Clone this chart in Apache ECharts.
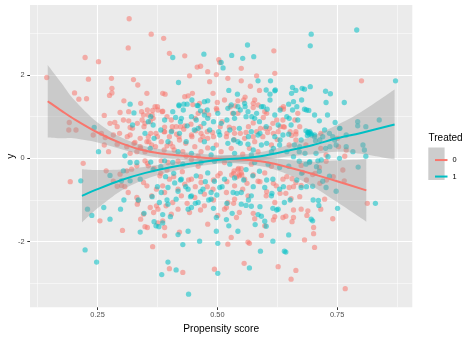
<!DOCTYPE html>
<html>
<head>
<meta charset="utf-8">
<script src="https://cdn.jsdelivr.net/npm/echarts@6/dist/echarts.min.js"></script>
<style>html,body{margin:0;padding:0;background:#fff;}#c{width:474px;height:338px;}</style>
</head>
<body>
<div id="c"></div>
<script>
// ---- data ----
const xTicks = [0.25, 0.50, 0.75];
const xMinor = [0.125, 0.375, 0.625, 0.875];
const yTicks = [-2, 0, 2];
const yMinor = [-3, -1, 1, 3];

const treated0 = [
[0.316,3.35],[0.362,2.98],[0.388,2.88],[0.314,2.65],[0.400,2.52],[0.432,2.46],[0.224,2.42],[0.252,2.32],[0.503,2.37],[0.505,2.30],[0.618,2.58],[0.458,2.19],[0.465,2.21],[0.480,2.08],[0.442,1.98],[0.550,2.16],[0.620,2.04],[0.498,2.01],
[0.144,1.94],[0.231,1.90],[0.279,1.92],[0.325,1.89],[0.334,1.76],[0.280,1.68],[0.280,1.57],[0.275,1.51],[0.202,1.57],[0.211,1.42],[0.227,1.43],[0.353,1.56],[0.305,1.38],[0.297,1.10],[0.315,1.12],[0.264,1.03],[0.276,0.84],[0.286,0.86],[0.291,0.76],[0.304,0.92],[0.315,0.90],[0.318,0.74],[0.191,0.86],[0.190,0.68],[0.205,0.68],[0.241,0.56],[0.258,0.60],[0.266,0.50],[0.273,0.16],[0.264,0.32],[0.342,1.12],[0.346,1.04],[0.356,1.04],[0.343,0.92],[0.349,0.84],[0.360,0.88],[0.366,0.96],[0.370,1.24],[0.365,1.15],[0.283,0.56],[0.296,0.60],[0.318,0.56],[0.339,0.48],[0.291,0.34],[0.311,0.28],[0.328,0.38],[0.339,0.28],[0.353,0.40],[0.363,0.32],[0.332,0.16],[0.349,0.16],[0.318,0.12],[0.356,0.52],[0.372,0.60],
[0.386,1.56],[0.391,1.54],[0.432,1.48],[0.439,1.50],[0.448,1.56],[0.484,1.84],[0.522,1.92],[0.550,1.86],[0.569,1.73],[0.582,1.98],[0.491,1.56],[0.500,1.34],[0.558,1.47],[0.543,1.38],[0.463,1.32],[0.449,1.29],[0.386,1.13],[0.376,1.16],[0.404,0.92],[0.414,0.76],[0.423,0.76],[0.432,0.78],[0.460,1.08],[0.473,1.12],[0.498,1.20],[0.543,1.08],[0.578,1.40],[0.585,1.28],[0.599,1.12],[0.616,0.84],[0.633,1.20],[0.637,0.92],[0.390,0.64],[0.400,0.52],[0.421,0.44],[0.446,0.56],[0.466,0.60],[0.480,0.48],[0.498,0.32],[0.519,0.52],[0.536,0.60],[0.557,0.48],[0.578,0.40],[0.595,0.52],[0.613,0.32],[0.627,0.64],[0.407,0.28],[0.428,0.16],[0.453,0.28],[0.508,0.16],[0.529,0.24],[0.567,0.24],[0.585,0.16],[0.383,0.40],[0.466,0.16],[0.553,0.10],
[0.390,0.75],[0.405,0.66],[0.415,0.58],[0.430,0.70],[0.445,0.82],[0.455,0.66],[0.470,0.52],[0.395,0.30],[0.410,0.20],[0.435,0.05],[0.460,0.05],[0.480,0.25],[0.490,0.62],[0.510,0.88],[0.525,0.75],[0.535,0.45],[0.560,0.62],[0.575,0.85],[0.590,0.72],[0.605,0.62],[0.625,0.45],[0.640,0.75],[0.655,0.55],
[0.515,1.40],[0.588,1.63],[0.537,1.26],[0.532,1.08],[0.575,1.22],[0.596,0.98],[0.638,1.18],[0.609,0.72],[0.631,0.76],[0.575,0.52],[0.753,0.28],[0.664,0.58],
[0.340,1.32],[0.354,1.16],[0.364,1.04],[0.375,1.24],[0.385,1.12],[0.395,1.00],[0.406,0.76],[0.389,0.64],[0.375,0.52],[0.361,0.60],[0.347,0.76],[0.333,0.84],[0.323,0.72],[0.312,0.52],[0.326,0.36],[0.340,0.24],[0.357,0.40],[0.371,0.28],[0.389,0.20],[0.402,0.36],[0.420,0.52],[0.434,0.36],[0.447,0.52],[0.465,0.44],[0.479,0.64],[0.492,0.52],[0.506,0.76],[0.520,0.60],[0.534,0.72],[0.548,0.60],[0.565,0.76],[0.582,0.64],[0.600,0.72],[0.617,0.60],[0.638,0.76],[0.652,0.64],[0.662,0.92],[0.672,0.76],[0.465,0.76],[0.454,0.96],[0.482,1.04],[0.499,1.16],[0.527,1.24],[0.555,1.40],[0.575,1.32],[0.603,1.08],[0.624,0.92],[0.638,1.24],
[0.801,1.86],[0.668,1.08],[0.716,0.60],[0.751,0.48],[0.769,0.20],[0.664,0.44],[0.650,0.32],[0.685,0.32],[0.716,0.24],[0.727,0.08],[0.664,0.64],[0.766,0.05],
[0.220,-0.12],[0.193,-0.56],[0.268,-0.30],[0.255,-1.50],[0.302,-1.73],[0.314,-0.82],[0.333,-1.10],[0.340,-1.46],[0.349,-1.64],[0.354,-1.66],[0.365,-2.12],[0.346,-1.34],[0.360,-1.18],[0.367,-1.30],[0.311,-0.30],[0.321,-0.26],[0.349,-0.06],[0.332,-0.18],[0.356,-0.18],[0.346,-0.58],[0.353,-0.66],[0.373,-0.74],[0.297,-0.38],[0.283,-0.55],[0.291,-0.67],[0.300,-0.65],[0.307,-0.68],[0.332,-0.94],[0.335,-1.02],[0.363,-0.90],[0.373,-1.14],
[0.383,-0.06],[0.397,-0.10],[0.418,-0.07],[0.446,-0.03],[0.460,-0.19],[0.400,-0.50],[0.386,-0.66],[0.390,-0.82],[0.418,-0.74],[0.432,-0.62],[0.446,-0.50],[0.466,-0.58],[0.453,-0.94],[0.473,-1.14],[0.442,-1.30],[0.418,-1.22],[0.404,-1.34],[0.386,-1.50],[0.390,-1.66],[0.501,-1.37],[0.480,-1.58],[0.515,-1.22],[0.522,-1.06],[0.519,-1.18],[0.540,-1.42],[0.546,-1.30],[0.578,-1.45],[0.620,-1.40],[0.637,-1.42],[0.599,-1.62],[0.529,-1.90],[0.522,-2.06],[0.564,-2.01],[0.567,-2.04],[0.556,-2.52],[0.494,-2.66],[0.400,-2.65],[0.428,-2.74],[0.627,-2.60],[0.592,-1.85],[0.421,-1.77],[0.390,-1.86],[0.543,-0.27],[0.550,-0.35],[0.546,-0.42],[0.557,-0.50],[0.536,-0.66],[0.553,-0.74],[0.564,-0.90],[0.536,-0.98],[0.585,-0.55],[0.599,-0.35],[0.613,-0.19],[0.623,-0.66],[0.637,-0.50],[0.602,-0.90],[0.620,-1.06],[0.519,-0.82],[0.501,-0.42],[0.491,-0.74],[0.473,-0.86],[0.425,-0.90],[0.407,-1.06],[0.393,-1.14],[0.376,-1.22],[0.376,-1.55],[0.380,-0.42],[0.515,-0.10],[0.571,-0.14],
[0.535,-0.30],[0.545,-0.38],[0.550,-0.25],[0.540,-0.45],[0.530,-0.40],
[0.354,-0.12],[0.368,-0.24],[0.382,-0.36],[0.395,-0.28],[0.409,-0.44],[0.427,-0.32],[0.440,-0.52],[0.454,-0.68],[0.465,-0.44],[0.479,-0.68],[0.492,-0.52],[0.506,-0.36],[0.520,-0.56],[0.534,-0.36],[0.544,-0.24],[0.551,-0.40],[0.562,-0.60],[0.575,-0.40],[0.589,-0.56],[0.603,-0.80],[0.617,-0.60],[0.631,-0.84],[0.645,-0.44],[0.659,-0.68],[0.672,-0.92],[0.686,-0.52],[0.704,-0.36],[0.714,-0.60],[0.728,-0.52],[0.742,-0.44],[0.762,-0.28],[0.437,-1.08],[0.465,-1.24],[0.492,-1.00],[0.534,-1.08],[0.575,-1.32],[0.617,-1.48],[0.659,-1.24],
[0.656,-0.49],[0.664,-0.58],[0.654,-0.97],[0.675,-0.65],[0.659,-1.42],[0.656,-1.52],[0.675,-1.22],[0.689,-1.26],[0.687,-1.37],[0.716,-1.22],[0.724,-0.98],[0.741,-1.45],[0.701,-1.66],[0.701,-1.81],[0.682,-1.96],[0.703,-2.14],[0.664,-2.69],[0.654,-2.90],[0.767,-3.13],[0.813,-1.08],[0.643,-0.84],[0.650,-0.70],[0.678,-0.34],[0.699,-0.39],[0.727,-0.07],[0.765,-0.54],[0.675,-0.17],[0.713,-0.22],[0.643,-1.39]
];

const treated1 = [
[0.791,3.08],[0.696,2.98],[0.694,2.70],[0.563,2.72],[0.472,2.50],[0.407,2.42],[0.508,2.30],[0.512,2.17],[0.530,2.47],[0.553,2.40],[0.576,2.44],[0.872,1.86],
[0.318,1.30],[0.326,1.09],[0.323,0.80],[0.243,0.74],[0.252,0.16],[0.361,1.00],[0.356,0.88],[0.366,0.80],[0.349,0.60],[0.307,0.06],[0.368,0.48],[0.360,0.24],
[0.419,1.82],[0.524,1.63],[0.542,1.54],[0.585,1.86],[0.602,1.64],[0.611,1.86],[0.621,1.64],[0.610,1.54],[0.430,1.30],[0.420,1.28],[0.460,1.26],[0.473,1.36],[0.480,1.38],[0.479,1.16],[0.522,1.20],[0.529,1.28],[0.557,1.32],[0.564,1.12],[0.543,1.24],[0.578,0.96],[0.592,1.24],[0.604,1.18],[0.620,1.04],[0.407,1.12],[0.390,0.92],[0.425,0.96],[0.446,1.00],[0.456,0.92],[0.480,0.96],[0.501,1.08],[0.508,0.84],[0.536,0.96],[0.560,1.00],[0.588,0.88],[0.602,0.76],[0.627,0.80],[0.382,0.68],[0.404,0.64],[0.421,0.60],[0.460,0.72],[0.484,0.68],[0.505,0.56],[0.526,0.68],[0.546,0.72],[0.571,0.64],[0.585,0.56],[0.620,0.52],[0.637,0.56],[0.397,0.40],[0.435,0.40],[0.473,0.40],[0.491,0.24],[0.522,0.36],[0.543,0.40],[0.564,0.34],[0.592,0.32],[0.613,0.16],[0.630,0.32],[0.446,0.12],[0.536,0.12],[0.418,0.16],[0.487,0.08],[0.571,0.08],
[0.420,1.26],[0.429,1.16],[0.437,1.30],[0.447,1.40],[0.458,1.27],[0.465,1.14],[0.473,1.04],[0.413,0.98],[0.423,0.88],[0.437,0.78],[0.452,0.68],[0.472,0.84],[0.492,0.88],[0.503,0.64],[0.520,0.92],[0.534,1.08],[0.548,1.16],[0.558,1.24],[0.572,1.00],[0.582,1.08],[0.596,1.24],[0.610,1.40],[0.620,1.62],[0.631,1.16],[0.645,1.00],[0.655,1.56],[0.666,1.24],[0.676,1.40],[0.686,1.16],[0.693,0.64],[0.697,0.56],[0.703,0.52],[0.714,0.44],[0.724,0.68],[0.735,0.28],[0.745,0.44],[0.756,0.72],[0.769,0.28],[0.783,0.16],[0.534,0.44],[0.548,0.36],[0.565,0.52],[0.575,0.20],[0.589,0.60],[0.603,0.36],[0.617,0.24],[0.631,0.44],[0.645,0.16],[0.659,0.04],[0.672,0.28],[0.683,0.12],[0.693,-0.08],[0.707,-0.20],[0.717,-0.04],[0.731,0.04],
[0.657,1.70],[0.664,1.63],[0.677,1.68],[0.682,1.66],[0.694,1.72],[0.726,1.61],[0.736,1.55],[0.765,1.34],[0.727,1.34],[0.649,1.30],[0.659,1.36],[0.657,1.16],[0.682,1.18],[0.691,1.15],[0.703,1.04],[0.730,1.04],[0.713,0.90],[0.746,0.86],[0.650,0.96],[0.668,0.92],[0.654,0.80],[0.685,0.66],[0.689,0.62],[0.692,0.58],[0.703,0.56],[0.720,0.52],[0.734,0.60],[0.741,0.52],[0.793,0.88],[0.793,0.78],[0.810,0.76],[0.838,0.92],[0.755,0.72],[0.769,0.56],[0.804,0.32],[0.807,0.20],[0.675,0.44],[0.661,0.32],[0.705,0.42],[0.726,0.24],[0.649,0.58],[0.671,0.16],[0.706,0.12],[0.748,0.32],
[0.690,0.62],[0.695,0.60],[0.688,0.55],
[0.215,-0.54],[0.229,-1.22],[0.238,-1.37],[0.263,-1.18],[0.276,-1.46],[0.298,-1.22],[0.305,-1.00],[0.224,-2.20],[0.248,-2.49],[0.276,-0.41],[0.318,-0.10],[0.332,-0.10],[0.361,-0.09],[0.339,-1.77],[0.335,-1.00],[0.347,-1.32],[0.372,-1.62],[0.300,-0.54],[0.318,-0.54],[0.339,-0.50],[0.304,-0.30],[0.366,-0.27],
[0.390,-0.06],[0.407,-0.10],[0.428,-0.14],[0.466,-0.10],[0.494,-0.07],[0.526,-0.14],[0.578,-0.10],[0.606,-0.14],[0.630,-0.22],[0.411,-0.59],[0.425,-0.50],[0.439,-0.74],[0.456,-0.42],[0.480,-0.35],[0.494,-0.55],[0.505,-0.70],[0.515,-0.50],[0.536,-0.47],[0.560,-0.27],[0.574,-0.42],[0.588,-0.31],[0.599,-0.70],[0.616,-0.50],[0.630,-0.74],[0.397,-1.10],[0.414,-0.98],[0.446,-1.18],[0.439,-1.22],[0.460,-1.06],[0.487,-0.98],[0.487,-0.82],[0.498,-1.42],[0.498,-1.75],[0.519,-1.47],[0.524,-1.62],[0.543,-1.75],[0.550,-1.10],[0.560,-1.13],[0.571,-1.15],[0.585,-1.35],[0.592,-1.39],[0.599,-1.51],[0.602,-1.63],[0.579,-1.59],[0.616,-1.20],[0.627,-1.22],[0.386,-1.35],[0.386,-1.55],[0.418,-1.83],[0.439,-1.75],[0.428,-2.07],[0.463,-1.99],[0.501,-2.04],[0.616,-1.99],[0.590,-2.23],[0.567,-2.63],[0.397,-2.49],[0.384,-2.79],[0.414,-2.68],[0.501,-2.76],[0.440,-3.26],[0.640,-2.23],[0.446,-0.90],[0.470,-0.74],[0.418,-0.79],[0.397,-0.70],[0.383,-0.82],[0.533,-0.82],[0.550,-0.82],[0.571,-0.90],[0.613,-0.90],[0.640,-1.06],[0.379,-1.06],
[0.409,-0.36],[0.423,-0.52],[0.434,-0.68],[0.444,-0.92],[0.454,-1.08],[0.465,-0.80],[0.475,-0.56],[0.482,-1.00],[0.492,-1.20],[0.499,-0.88],[0.510,-0.68],[0.520,-1.08],[0.531,-1.32],[0.541,-0.84],[0.555,-0.52],[0.565,-1.00],[0.575,-0.68],[0.589,-1.16],[0.603,-0.52],[0.614,-0.84],[0.624,-1.24],[0.638,-0.68],[0.652,-1.00],[0.666,-0.52],[0.676,-0.36],[0.686,-0.68],[0.700,-1.00],[0.382,-0.20],[0.392,-0.44],[0.375,-0.68],[0.364,-0.92],[0.395,-1.00],[0.402,-1.40],[0.378,-1.64],[0.368,-1.52],
[0.649,-0.19],[0.675,-0.70],[0.696,-1.46],[0.699,-1.50],[0.711,-1.01],[0.712,-1.13],[0.751,-1.20],[0.649,-1.84],[0.643,-2.25],[0.830,-1.08],[0.794,-0.21],[0.720,-0.55],[0.727,-0.70],[0.748,-0.79],[0.699,-0.67],[0.755,0.00],[0.710,-0.06],[0.685,-0.14],[0.692,-0.10],[0.810,0.05],[0.671,-0.07],[0.713,-0.31],[0.734,-0.43]
];

// loess fits and confidence limits
const fit0X  = [0.146,0.175,0.2,0.25,0.3,0.35,0.4,0.45,0.5,0.55,0.6,0.65,0.7,0.75,0.811];
const fit0Y  = [1.37,1.14,0.95,0.62,0.36,0.18,0.09,0.04,-0.01,-0.03,-0.09,-0.22,-0.38,-0.55,-0.77];
const fit0Lo = [0.50,0.48,0.48,0.38,0.22,0.07,-0.01,-0.05,-0.10,-0.13,-0.21,-0.40,-0.68,-1.05,-1.52];
const fit0Hi = [2.24,1.80,1.42,0.86,0.50,0.29,0.19,0.13,0.08,0.07,0.03,-0.04,-0.08,-0.05,-0.02];

const fit1X  = [0.2175,0.25,0.3,0.35,0.4,0.45,0.5,0.55,0.6,0.65,0.7,0.75,0.8,0.87];
const fit1Y  = [-0.90,-0.74,-0.52,-0.35,-0.22,-0.12,-0.04,0.00,0.07,0.19,0.32,0.48,0.61,0.81];
const fit1Lo = [-1.54,-1.20,-0.77,-0.50,-0.33,-0.21,-0.13,-0.09,-0.03,0.05,0.10,0.16,0.11,-0.03];
const fit1Hi = [-0.26,-0.28,-0.27,-0.20,-0.11,-0.03,0.05,0.09,0.17,0.33,0.54,0.80,1.11,1.65];

const groups = ['0', '1'];
const colors = ['#F8766D', '#00BFC4'];

// ---- chart ----
const FONT = "'Liberation Sans', Arial, Helvetica, sans-serif";
const X_MIN = 0.109, X_MAX = 0.907, Y_MIN = -3.576, Y_MAX = 3.68;

function splinePath(pts) {
  let d = '';
  for (let i = 0; i < pts.length - 1; i++) {
    const p0 = pts[i - 1] || pts[i], p1 = pts[i], p2 = pts[i + 1], p3 = pts[i + 2] || p2;
    const c1 = [p1[0] + (p2[0] - p0[0]) / 6, p1[1] + (p2[1] - p0[1]) / 6];
    const c2 = [p2[0] - (p3[0] - p1[0]) / 6, p2[1] - (p3[1] - p1[1]) / 6];
    d += ' C' + c1[0] + ',' + c1[1] + ' ' + c2[0] + ',' + c2[1] + ' ' + p2[0] + ',' + p2[1];
  }
  return d;
}

function bandSeries(xs, lo, hi, z) {
  return {
    type: 'custom', xAxisIndex: 0, yAxisIndex: 0, z: z, silent: true,
    data: [0],
    renderItem: function (params, api) {
      const up = xs.map((x, i) => api.coord([x, hi[i]]));
      const dn = xs.map((x, i) => api.coord([x, lo[i]])).reverse();
      const d = 'M' + up[0][0] + ',' + up[0][1] + splinePath(up) +
        ' L' + dn[0][0] + ',' + dn[0][1] + splinePath(dn) + ' Z';
      return { type: 'path', shape: { pathData: d }, style: { fill: 'rgba(153,153,153,0.4)' } };
    }
  };
}

function lineSeries(name, xs, ys, color) {
  return {
    type: 'custom', name: name, z: 5, silent: true, data: [0],
    renderItem: function (params, api) {
      const p = xs.map((x, i) => api.coord([x, ys[i]]));
      return { type: 'path', shape: { pathData: 'M' + p[0][0] + ',' + p[0][1] + splinePath(p) },
        style: { fill: 'none', stroke: color, lineWidth: 2 } };
    }
  };
}

const chart = echarts.init(document.getElementById('c'), null, { renderer: 'canvas' });
const option = {
  animation: false,
  backgroundColor: '#FFFFFF',
  grid: { left: 30, top: 5, width: 382.3, height: 302.3, show: true, backgroundColor: '#EBEBEB', borderWidth: 0, containLabel: false, outerBoundsMode: 'none' },
  xAxis: [
    { type: 'value', min: X_MIN, max: X_MAX,
      axisLine: { show: false, onZero: false },
      axisTick: { show: true, customValues: xTicks, length: 2.7, lineStyle: { color: '#333333', width: 1 } },
      axisLabel: { customValues: xTicks, formatter: v => v.toFixed(2), fontSize: 7.4, color: '#4D4D4D', margin: 4.5, fontFamily: FONT },
      splitLine: { show: true, lineStyle: { color: '#FFFFFF', width: 1.1 } },
      name: 'Propensity score', nameLocation: 'middle', nameGap: 16.5, nameMoveOverlap: false,
      nameTextStyle: { fontSize: 10.2, color: '#000000', fontFamily: FONT } },
    { type: 'value', min: X_MIN, max: X_MAX, position: 'top',
      axisLine: { show: false, onZero: false }, axisTick: { show: false, customValues: xMinor },
      axisLabel: { show: false, customValues: xMinor },
      splitLine: { show: true, lineStyle: { color: '#FFFFFF', width: 0.5 } } }
  ],
  yAxis: [
    { type: 'value', min: Y_MIN, max: Y_MAX,
      axisLine: { show: false, onZero: false },
      axisTick: { show: true, customValues: yTicks, length: 2.7, lineStyle: { color: '#333333', width: 1 } },
      axisLabel: { customValues: yTicks, formatter: v => String(v), fontSize: 7.4, color: '#4D4D4D', margin: 5.5, fontFamily: FONT },
      splitLine: { show: true, lineStyle: { color: '#FFFFFF', width: 1.1 } },
      name: 'y', nameLocation: 'middle', nameGap: 14, nameMoveOverlap: false,
      nameTextStyle: { fontSize: 10.2, color: '#000000', fontFamily: FONT } },
    { type: 'value', min: Y_MIN, max: Y_MAX, position: 'right',
      axisLine: { show: false, onZero: false }, axisTick: { show: false, customValues: yMinor },
      axisLabel: { show: false, customValues: yMinor },
      splitLine: { show: true, lineStyle: { color: '#FFFFFF', width: 0.5 } } }
  ],
  legend: {
    orient: 'vertical', left: 430, top: 146.8, itemWidth: 12.5, itemHeight: 2, itemGap: 0,
    icon: 'rect', selectedMode: false,
    textStyle: { fontSize: 7.4, color: '#000000', lineHeight: 16.5, fontFamily: FONT },
    data: groups.map((g, i) => ({ name: g, itemStyle: { color: colors[i], opacity: 1 } }))
  },
  graphic: [
    { type: 'text', x: 428.5, y: 138.5, style: { text: 'Treated', fontSize: 10, fill: '#000000', fontFamily: FONT, verticalAlign: 'middle', align: 'left' } },
    { type: 'rect', z: -1, shape: { x: 428.3, y: 147.5, width: 16.3, height: 32.5 }, style: { fill: '#CDCDCD' } }
  ],
  series: [
    { type: 'scatter', name: groups[0], data: treated0, symbolSize: 5.3, z: 2,
      itemStyle: { color: colors[0], opacity: 0.55 } },
    { type: 'scatter', name: groups[1], data: treated1, symbolSize: 5.3, z: 2,
      itemStyle: { color: colors[1], opacity: 0.55 } },
    bandSeries(fit0X, fit0Lo, fit0Hi, 3),
    bandSeries(fit1X, fit1Lo, fit1Hi, 3),
    lineSeries(groups[0], fit0X, fit0Y, colors[0]),
    lineSeries(groups[1], fit1X, fit1Y, colors[1])
  ]
};
chart.setOption(option);
</script>
</body>
</html>
